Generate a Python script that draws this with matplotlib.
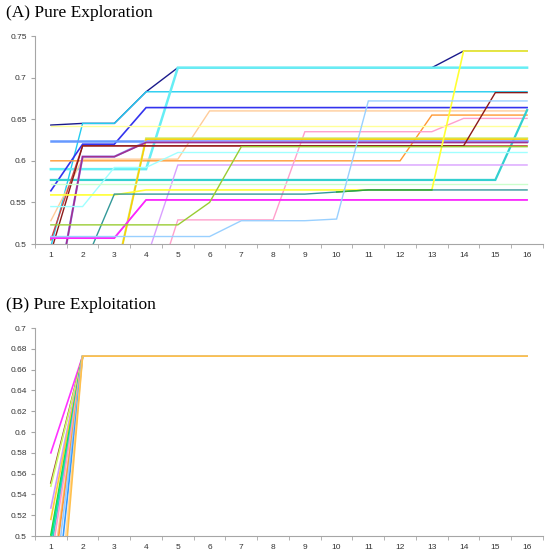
import numpy as np
import matplotlib
matplotlib.use("Agg")
import matplotlib.pyplot as plt

nan = np.nan
steps = list(range(1, 17))

# (A) Pure Exploration: one list per run, drawn in order (later on top)
explore_navy = [0.643, 0.645, 0.645, 0.683, 0.712, 0.712, 0.712, 0.712, 0.712, 0.712, 0.712, 0.712, 0.712, 0.732, 0.732, 0.732]
explore_deepsky = [0.497, 0.645, 0.645, 0.683, 0.683, 0.683, 0.683, 0.683, 0.683, 0.683, 0.683, 0.683, 0.683, 0.683, 0.683, 0.683]
explore_aqua = [0.590, 0.590, 0.590, 0.590, 0.712, 0.712, 0.712, 0.712, 0.712, 0.712, 0.712, 0.712, 0.712, 0.712, 0.712, 0.712]
explore_blue = [0.564, 0.620, 0.620, 0.664, 0.664, 0.664, 0.664, 0.664, 0.664, 0.664, 0.664, 0.664, 0.664, 0.664, 0.664, 0.664]
explore_peach = [0.528, 0.602, 0.602, 0.602, 0.602, 0.660, 0.660, 0.660, 0.660, 0.660, 0.660, 0.660, 0.660, 0.660, 0.660, 0.660]
explore_orange = [0.600, 0.600, 0.600, 0.600, 0.600, 0.600, 0.600, 0.600, 0.600, 0.600, 0.600, 0.600, 0.655, 0.655, 0.655, 0.655]
explore_pink = [0.400, 0.400, 0.400, 0.410, 0.529, 0.529, 0.529, 0.529, 0.635, 0.635, 0.635, 0.635, 0.635, 0.651, 0.651, 0.651]
explore_paleyellow = [0.642] * 16
explore_turquoise = [0.577, 0.577, 0.577, 0.577, 0.577, 0.577, 0.577, 0.577, 0.577, 0.577, 0.577, 0.577, 0.577, 0.577, 0.577, 0.661]
explore_cornflower = [0.624] * 16
explore_limegreen = [0.450, 0.450, 0.455, 0.627, 0.627, 0.627, 0.627, 0.627, 0.627, 0.627, 0.627, 0.627, 0.627, 0.627, 0.627, 0.627]
explore_gold = [0.450, 0.450, 0.455, 0.626, 0.626, 0.626, 0.626, 0.626, 0.626, 0.626, 0.626, 0.626, 0.626, 0.626, 0.626, 0.626]
explore_lilac = [0.399, 0.605, 0.605, 0.623, 0.623, 0.623, 0.623, 0.623, 0.623, 0.623, 0.623, 0.623, 0.623, 0.623, 0.623, 0.623]
explore_purple = [0.399, 0.605, 0.605, 0.622, 0.622, 0.622, 0.622, 0.622, 0.622, 0.622, 0.622, 0.622, 0.622, 0.622, 0.622, 0.622]
explore_red = [0.505, 0.618, 0.618, 0.618, 0.618, 0.618, 0.618, 0.618, 0.618, 0.618, 0.618, 0.618, 0.618, 0.618, 0.618, 0.618]
explore_maroon = [0.490, 0.618, 0.618, 0.618, 0.618, 0.618, 0.618, 0.618, 0.618, 0.618, 0.618, 0.618, 0.618, 0.618, 0.682, 0.682]
explore_paleturq = [0.545, 0.545, 0.592, 0.592, 0.610, 0.610, 0.610, 0.610, 0.610, 0.610, 0.610, 0.610, 0.610, 0.610, 0.610, 0.610]
explore_plum = [0.400, 0.400, 0.400, 0.481, 0.595, 0.595, 0.595, 0.595, 0.595, 0.595, 0.595, 0.595, 0.595, 0.595, 0.595, 0.595]
explore_palegreen = [0.572] * 16
explore_yellow = [0.559, 0.559, 0.559, 0.565, 0.565, 0.565, 0.565, 0.565, 0.565, 0.565, 0.565, 0.565, 0.565, 0.732, 0.732, 0.732]
explore_teal = [0.450, 0.470, 0.560, 0.560, 0.560, 0.560, 0.560, 0.560, 0.560, 0.5625, 0.565, 0.565, 0.565, 0.565, 0.565, 0.565]
explore_green = [nan, nan, nan, nan, nan, nan, nan, nan, nan, 0.5625, 0.565, 0.565, 0.565, nan, nan, nan]
explore_violet = [0.508, 0.508, 0.508, 0.553, 0.553, 0.553, 0.553, 0.553, 0.553, 0.553, 0.553, 0.553, 0.553, 0.553, 0.553, 0.553]
explore_magenta = [0.507, 0.507, 0.507, 0.553, 0.553, 0.553, 0.553, 0.553, 0.553, 0.553, 0.553, 0.553, 0.553, 0.553, 0.553, 0.553]
explore_yellowgreen = [0.523, 0.523, 0.523, 0.523, 0.523, 0.550, 0.617, 0.617, 0.617, 0.617, 0.617, 0.617, 0.617, 0.617, 0.617, 0.617]
explore_skyblue = [0.509, 0.509, 0.509, 0.509, 0.509, 0.509, 0.528, 0.528, 0.528, 0.530, 0.672, 0.672, 0.672, 0.672, 0.672, 0.672]

explore_runs = [
    (explore_navy, "#1a1a8c", 1.0),
    (explore_deepsky, "#22ccf0", 1.0),
    (explore_aqua, "#66eef5", 1.8),
    (explore_blue, "#3333ee", 1.2),
    (explore_peach, "#ffcc99", 1.0),
    (explore_orange, "#ff9933", 1.0),
    (explore_pink, "#ffa0cc", 1.0),
    (explore_paleyellow, "#ffff99", 1.0),
    (explore_turquoise, "#33d0d0", 1.6),
    (explore_cornflower, "#6699ff", 1.8),
    (explore_limegreen, "#ccee77", 1.6),
    (explore_gold, "#ffcc00", 1.0),
    (explore_lilac, "#9999ff", 1.6),
    (explore_purple, "#a03090", 1.2),
    (explore_red, "#cc4444", 1.0),
    (explore_maroon, "#8b1a1a", 1.0),
    (explore_paleturq, "#a0ffff", 1.0),
    (explore_plum, "#d9a0ff", 1.0),
    (explore_palegreen, "#ccffcc", 1.0),
    (explore_yellow, "#ffff33", 1.2),
    (explore_teal, "#339999", 1.0),
    (explore_green, "#33aa33", 1.0),
    (explore_violet, "#dd88ee", 1.0),
    (explore_magenta, "#ff22ff", 1.2),
    (explore_yellowgreen, "#99cc33", 1.0),
    (explore_skyblue, "#99d0ff", 1.0),
]

# (B) Pure Exploitation: every run jumps to the same plateau at step 2
exploit_start = [0.580, 0.551, 0.548, 0.527, 0.516, 0.501, 0.495, 0.486,
                 0.475, 0.454, 0.443, 0.422, 0.390, 0.347, 0.313]
exploit_colors = ["#ff33ff", "#993333", "#ccff66", "#cc99ff", "#ffcc33",
                  "#33cc33", "#00ee88", "#33cccc", "#ff99cc", "#ffcc99",
                  "#ff9933", "#99ccff", "#3399ff", "#ffd9a0", "#ffc04d"]
exploit_plateau = 0.673

fig = plt.figure(figsize=(5.5, 5.59), dpi=100)
ax_a = fig.add_axes([0.0636, 0.5635, 0.9236, 0.372])
ax_b = fig.add_axes([0.0636, 0.0411, 0.9236, 0.372])

for vals, col, lw in explore_runs:
    ax_a.plot(steps, vals, color=col, lw=lw, solid_joinstyle="miter")

for v0, col in zip(exploit_start, exploit_colors):
    vals = [v0] + [exploit_plateau] * (len(steps) - 1)
    ax_b.plot(steps, vals, color=col, lw=1.2)


def style_axis(ax, ymin, ymax, yticks, ylabels):
    ax.set_xlim(0.5, 16.5)
    ax.set_ylim(ymin, ymax)
    for side in ["top", "right"]:
        ax.spines[side].set_visible(False)
    for side in ["left", "bottom"]:
        ax.spines[side].set_color("#a6a6a6")
        ax.spines[side].set_linewidth(0.8)
    ax.set_xticks(steps)
    ax.set_xticklabels([str(s) for s in steps])
    ax.set_xticks(np.arange(0.5, 17, 1.0), minor=True)
    ax.tick_params(axis="x", which="major", length=0, pad=6,
                   labelsize=6, labelcolor="#333333")
    ax.tick_params(axis="x", which="minor", length=3, color="#a6a6a6",
                   direction="out")
    ax.set_yticks(yticks)
    ax.set_yticklabels(ylabels)
    ax.tick_params(axis="y", length=3, color="#a6a6a6", pad=3,
                   labelsize=6, labelcolor="#333333")
    for lab in ax.get_xticklabels() + ax.get_yticklabels():
        lab.set_family("Liberation Sans")


style_axis(ax_a, 0.5, 0.75, [0.5, 0.55, 0.6, 0.65, 0.7, 0.75],
           ["0.5", "0.55", "0.6", "0.65", "0.7", "0.75"])
b_ticks = [0.5, 0.52, 0.54, 0.56, 0.58, 0.6, 0.62, 0.64, 0.66, 0.68, 0.7]
style_axis(ax_b, 0.5, 0.7, b_ticks,
           ["0.5", "0.52", "0.54", "0.56", "0.58", "0.6", "0.62", "0.64",
            "0.66", "0.68", "0.7"])

fig.text(0.010, 0.976, "(A) Pure Exploration", family="Liberation Serif",
         fontsize=12.5, va="center", ha="left")
fig.text(0.010, 0.455, "(B) Pure Exploitation", family="Liberation Serif",
         fontsize=12.5, va="center", ha="left")

fig.savefig("out.png", dpi=100)
